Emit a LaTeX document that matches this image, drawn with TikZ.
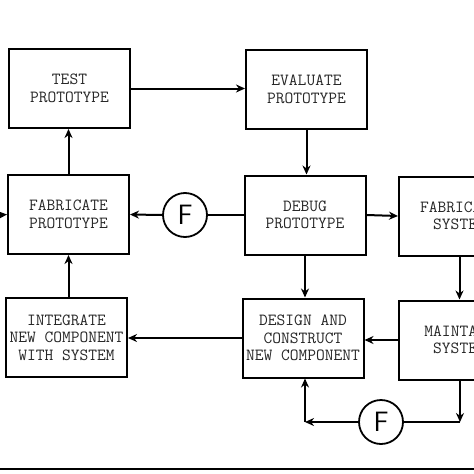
\documentclass[tikz,border=0pt]{standalone}
\usetikzlibrary{arrows.meta}
\begin{document}
\begin{tikzpicture}[
  x=1pt,
  y=-1pt,
  block/.style={draw=black,line width=2pt,minimum width=121pt,minimum height=79pt,inner sep=0pt,align=center,text=black!85,font=\ttfamily\fontsize{17}{17.5}\selectfont},
  fault/.style={circle,draw=black,line width=1.8pt,minimum size=44pt,inner sep=0pt,font=\sffamily\fontsize{28}{28}\selectfont},
  flow/.style={draw=black,line width=2pt,-{Stealth[length=9pt,width=8pt]}},
  plain/.style={draw=black,line width=2pt}
]
  \useasboundingbox (0,0) rectangle (474,474);

  \node[block] (test) at (69.5,88.5) {TEST\\PROTOTYPE};
  \node[block] (eval) at (306.5,89.5) {EVALUATE\\PROTOTYPE};
  \node[block] (fabp) at (68.5,214.5) {FABRICATE\\PROTOTYPE};
  \node[fault] (f1) at (185,215) {F};
  \node[block] (debug) at (305,215) {DEBUG\\PROTOTYPE};
  \node[block] (fabs) at (459.5,216) {FABRICATE\\SYSTEM};
  \node[block] (integ) at (66.5,337.5) {INTEGRATE\\NEW COMPONENT\\WITH SYSTEM};
  \node[block] (design) at (303,338) {DESIGN AND\\CONSTRUCT\\NEW COMPONENT};
  \node[block] (maint) at (459.5,340) {MAINTAIN\\SYSTEM};
  \node[fault] (f2) at (381,422) {F};
  \coordinate (in) at (0,215);
  \coordinate (c1) at (460,422);
  \coordinate (c2) at (305,422);

  \draw[flow] (test.east) -- (test.east -| eval.west);
  \draw[flow] (eval.south) -- (eval.south |- debug.north);
  \draw[flow] (fabp.north) -- (fabp.north |- test.south);
  \draw[plain] (debug.west) -- (f1.east);
  \draw[flow] (f1.west) -- (fabp.east);
  \draw[flow] (in) -- (fabp.west);
  \draw[flow] (debug.east) -- (fabs.west);
  \draw[flow] (fabs.south) -- (maint.north);
  \draw[flow] (integ.north -| fabp.south) -- (fabp.south);
  \draw[flow] (debug.south) -- (debug.south |- design.north);
  \draw[flow] (design.west) -- (design.west -| integ.east);
  \draw[flow] (maint.west) -- (maint.west -| design.east);
  \draw[flow] (maint.south -| c1) -- (c1);
  \draw[plain] (c1) -- (f2.east);
  \draw[flow] (f2.west) -- (c2);
  \draw[flow] (c2) -- (design.south -| c2);

  \draw[line width=1.5pt] (0,469) -- (474,469);
\end{tikzpicture}
\end{document}
